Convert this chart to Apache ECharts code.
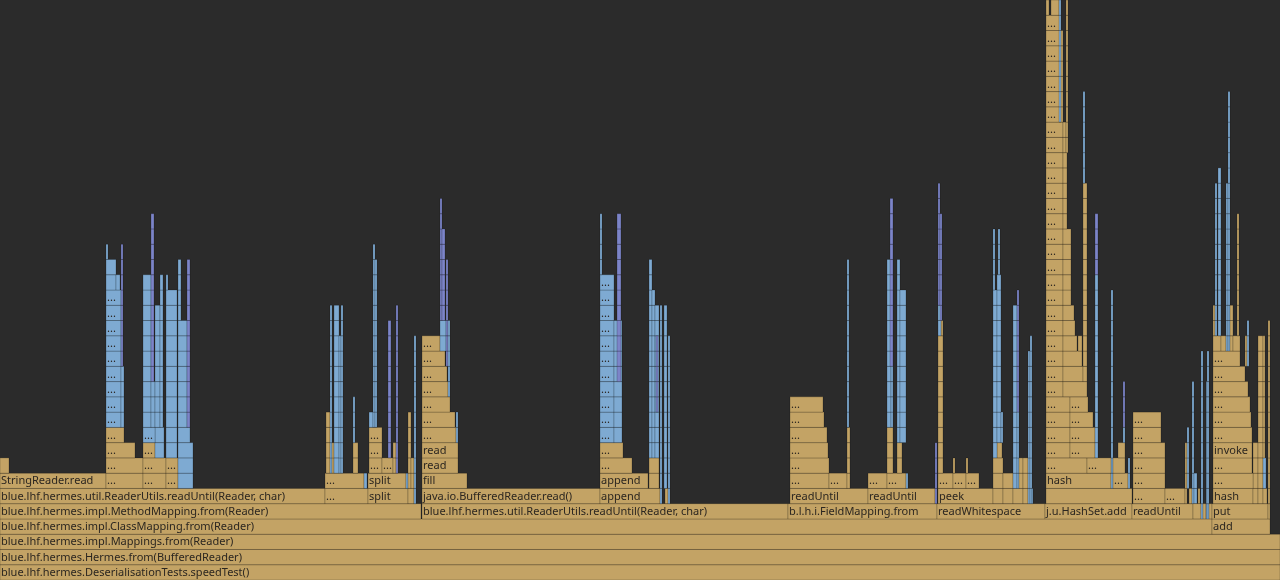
<!DOCTYPE html>
<html><head><meta charset="utf-8">
<script src="https://cdn.jsdelivr.net/npm/echarts@6/dist/echarts.min.js"></script>
<style>html,body{margin:0;padding:0;background:#2b2b2b;}#c{width:1280px;height:580px;}</style>
</head><body><div id="c"></div>
<script>
// Each frame run: [startSample, endSample, depthFrom, depthTo, kind (t=java, b=blue, p=purple), label]
// label omitted => "..." (elided name); '' => no label
const rootFrames = [
  [0,1280,0,0,'t','blue.lhf.hermes.DeserialisationTests.speedTest()'],
  [0,1280,1,1,'t','blue.lhf.hermes.Hermes.from(BufferedReader)'],
  [0,1280,2,2,'t','blue.lhf.hermes.impl.Mappings.from(Reader)'],
  [0,1212,3,3,'t','blue.lhf.hermes.impl.ClassMapping.from(Reader)'],
  [1212,1270,3,3,'t','add'],
  [0,421,4,4,'t','blue.lhf.hermes.impl.MethodMapping.from(Reader)'],
  [422,788,4,4,'t','blue.lhf.hermes.util.ReaderUtils.readUntil(Reader, char)'],
  [788,937,4,4,'t','b.l.h.i.FieldMapping.from'],
  [937,1045,4,4,'t','readWhitespace'],
  [1045,1132,4,4,'t','j.u.HashSet.add'],
  [1132,1193,4,4,'t','readUntil']
];
const methodFrames = [
  [0,325,5,5,'t','blue.lhf.hermes.util.ReaderUtils.readUntil(Reader, char)'],
  [0,106,6,6,'t','StringReader.read'],
  [0,9,7,7,'t'],
  [106,143,6,7,'t'],[106,135,8,8,'t'],[106,124,9,9,'t'],
  [143,166,6,7,'t'],[143,155,8,8,'t'],
  [166,178,6,7,'t'],
  [155,164,8,9,'b'],[143,155,9,9,'b'],[166,177,8,9,'b',''],
  [178,193,6,8,'b',''],[178,190,9,9,'b',''],
  [106,121,10,18,'b'],[106,116,19,20,'b',''],[116,120,19,19,'b',''],[106,108,21,21,'b'],
  [121,124,10,13,'b'],[121,123,14,21,'p'],
  [143,151,10,19,'b'],[151,155,10,12,'b'],[151,154,13,23,'p'],
  [155,160,10,17,'b'],[160,163,10,19,'b'],
  [166,177,10,18,'b',''],[166,168,19,19,'b'],
  [178,187,10,16,'b'],[178,181,17,20,'b'],[187,190,10,20,'p']
];
const splitFrames = [
  [325,368,5,5,'t'],[368,408,5,5,'t','split'],[408,414,5,5,'t'],
  [325,364,6,6,'t'],[364,367,6,6,'b'],
  [326,330,7,10,'t'],[330,332,7,17,'b'],[332,334,7,8,'t'],
  [334,339,7,17,'b'],[339,341,7,15,'b'],[341,343,7,17,'b'],
  [353,358,7,8,'t'],[353,355,9,11,'b'],
  [368,406,6,6,'t','split'],[406,408,6,6,'b'],
  [369,382,7,9,'t'],[369,373,10,10,'b'],[373,375,10,21,'b'],[375,377,10,20,'b'],
  [382,393,7,7,'t'],[388,391,8,16,'p'],[393,396,7,8,'t'],[396,398,7,17,'p'],
  [408,411,6,10,'t'],[411,414,6,7,'t'],[414,416,5,15,'b']
];
const bufferedFrames = [
  [422,600,5,5,'t','java.io.BufferedReader.read()'],
  [422,467,6,6,'t','fill'],
  [422,458,7,7,'t','read'],[422,458,8,8,'t','read'],
  [422,456,9,9,'t'],[456,458,9,10,'b'],
  [422,455,10,10,'t'],[422,450,11,11,'t'],[422,448,12,12,'t'],
  [422,447,13,13,'t'],[422,445,14,14,'t'],[422,440,15,15,'t'],
  [440,446,15,16,'b'],[440,442,17,24,'p'],[442,445,17,22,'p'],
  [446,448,14,20,'p'],[448,450,12,16,'b']
];
const appendFrames = [
  [600,660,5,5,'t','append'],[665,668,5,5,'t'],
  [600,648,6,6,'t','append'],[649,659,6,7,'t'],
  [600,632,7,7,'t'],[600,623,8,8,'t'],
  [600,614,9,19,'b'],[614,622,9,16,'b'],[617,621,13,23,'p'],[600,602,20,23,'b'],
  [649,652,8,20,'b'],[652,655,8,18,'b'],[655,659,8,17,'b'],[656,658,11,15,'p'],
  [660,662,5,17,'b'],[664,667,6,17,'b'],[668,670,5,15,'b']
];
const fieldFrames = [
  [790,868,5,5,'t','readUntil'],[868,935,5,5,'t','readUntil'],[935,937,5,8,'p'],
  [790,829,6,7,'t'],[790,828,8,8,'t'],[790,827,9,9,'t'],[790,824,10,10,'t'],[790,823,11,11,'t'],
  [829,847,6,6,'t'],[847,850,6,9,'t'],[847,849,10,20,'b'],
  [868,887,6,6,'t'],[887,906,6,6,'t'],[906,908,6,6,'b'],
  [887,893,7,9,'t'],[887,891,10,20,'b'],[891,893,10,13,'b'],[890,893,14,24,'p'],
  [897,902,7,8,'t'],[897,900,9,20,'b'],[900,906,9,18,'b']
];
const whitespaceFrames = [
  [938,993,5,5,'t','peek'],[993,1003,5,5,'t'],[1003,1013,5,5,'t'],[1013,1023,5,5,'t'],[1023,1028,5,5,'t'],
  [938,953,6,6,'t'],[953,966,6,6,'t'],[966,979,6,6,'t'],
  [938,943,7,15,'t'],[941,943,16,16,'t'],[938,941,16,17,'b'],[938,940,18,25,'p'],[940,942,17,23,'p'],
  [953,955,7,7,'t'],[966,968,7,7,'t'],
  [993,1003,6,7,'t'],[1003,1013,6,6,'t'],
  [997,1002,8,8,'t'],[993,997,8,18,'b'],[993,995,19,22,'b'],
  [997,1001,9,19,'b'],[998,1000,20,22,'b'],[1001,1003,9,10,'b'],
  [1013,1017,6,17,'b'],[1017,1019,6,10,'b'],[1017,1019,11,18,'p'],
  [1019,1023,6,7,'t'],[1023,1028,6,7,'t'],
  [1028,1030,5,14,'b'],[1030,1032,5,15,'b'],[1032,1033,5,5,'b']
];
const hashFrames = [
  [1046,1132,5,5,'t','j.u.HashMap.put'],
  [1046,1111,6,6,'t','hash'],[1111,1113,6,18,'b'],[1113,1128,6,6,'t'],[1128,1130,6,7,'b'],
  [1046,1087,7,7,'t'],[1087,1111,7,7,'t'],[1113,1125,7,7,'t',''],
  [1046,1070,8,11,'t'],[1070,1095,8,9,'t'],[1070,1093,10,10,'t'],[1070,1088,11,11,'t'],
  [1046,1063,12,35,'t'],
  [1063,1087,12,12,'t',''],[1063,1083,13,13,'t',''],[1063,1082,14,14,'t',''],
  [1063,1077,15,15,'t',''],[1078,1082,15,15,'t',''],[1063,1075,16,16,'t',''],[1063,1074,17,17,'t',''],
  [1063,1071,18,22,'t',''],[1063,1067,23,27,'t',''],[1063,1066,28,29,'t',''],
  [1046,1060,36,36,'t'],[1046,1049,37,37,'t'],[1051,1059,37,37,'t'],
  [1059,1061,30,37,'b'],[1066,1068,28,37,'t'],
  [1083,1087,13,25,'t'],[1083,1085,26,31,'b'],
  [1095,1098,8,19,'b'],[1095,1098,20,23,'p'],
  [1118,1125,8,8,'t'],[1123,1125,9,9,'b'],[1123,1125,10,12,'p']
];
const classReadFrames = [
  [1133,1165,5,5,'t'],[1165,1185,5,5,'t'],[1185,1187,5,8,'t'],[1187,1189,6,9,'b'],
  [1189,1192,5,5,'t'],[1192,1194,5,12,'b'],[1194,1197,5,6,'b'],[1198,1200,5,5,'t'],
  [1133,1165,6,8,'t'],[1133,1161,9,10,'t'],
  [1193,1201,4,4,'t'],[1201,1203,4,14,'b'],[1203,1206,4,4,'t'],[1206,1207,4,12,'b'],
  [1207,1209,4,14,'b'],[1209,1212,4,4,'t']
];
const addFrames = [
  [1212,1268,4,4,'t','put'],[1268,1270,4,16,'t'],
  [1213,1253,5,5,'t','hash'],[1253,1258,5,8,'t'],[1258,1263,5,15,'t'],[1263,1267,5,5,'t'],
  [1263,1266,6,7,'b'],[1263,1265,8,15,'t'],
  [1213,1253,6,6,'t'],[1213,1252,7,7,'t'],[1213,1252,8,8,'t','invoke'],[1213,1252,9,9,'t'],
  [1213,1251,10,10,'t'],[1213,1250,11,11,'t'],[1213,1248,12,12,'t'],[1213,1245,13,13,'t'],
  [1213,1240,14,14,'t'],
  [1213,1221,15,15,'t',''],[1213,1215,16,17,'t'],
  [1215,1217,16,25,'b'],[1218,1221,16,26,'b'],
  [1221,1226,15,15,'t',''],[1226,1228,15,25,'b'],[1228,1230,15,31,'b'],
  [1230,1233,15,17,'t'],[1233,1240,15,15,'t',''],[1237,1239,16,23,'t'],
  [1245,1247,14,15,'t'],[1247,1249,14,16,'b']
];

const frameGroups = [rootFrames, methodFrames, splitFrames, bufferedFrames, appendFrames,
  fieldFrames, whitespaceFrames, hashFrames, classReadFrames, addFrames];
const kindColors = { t: '#c3a365', b: '#7eaad2', p: '#7c84c8' };
const totalSamples = 1280;
const maxDepth = 38;

// expand runs into individual frames
const cells = [];
frameGroups.forEach(g => g.forEach(f => {
  const label = f.length > 5 ? f[5] : '...';
  for (let d = f[2]; d <= f[3]; d++) cells.push({ s: f[0], e: f[1], d: d, k: f[4], label: label });
}));

const FONT = '11px "Noto Sans"';
const ctx = document.createElement('canvas').getContext('2d');
ctx.font = FONT;
const widthCache = {};
function textW(t) { if (!(t in widthCache)) widthCache[t] = ctx.measureText(t).width; return widthCache[t]; }

const chart = echarts.init(document.getElementById('c'), null, { renderer: 'canvas' });
chart.setOption({
  backgroundColor: '#2b2b2b',
  animation: false,
  grid: { left: 0, right: 0, top: 0, bottom: 0 },
  xAxis: { type: 'value', min: 0, max: totalSamples, show: false },
  yAxis: { type: 'value', min: 0, max: maxDepth, show: false },
  series: [{
    type: 'custom',
    data: cells.map(c => [c.s, c.e, c.d]),
    encode: { x: [0, 1], y: 2 },
    renderItem: function (params, api) {
      const c = cells[params.dataIndex];
      const p0 = api.coord([c.s, c.d]);
      const p1 = api.coord([c.e, c.d + 1]);
      const x = p0[0], y = p1[1], w = p1[0] - p0[0], h = p0[1] - p1[1];
      const children = [{
        type: 'rect',
        shape: { x: x, y: y, width: w, height: h },
        style: { fill: kindColors[c.k], stroke: 'rgba(0,0,0,0.2)', lineWidth: 1 }
      }];
      if (c.label && textW(c.label) + 2 <= w) {
        children.push({
          type: 'text',
          style: { text: c.label, x: x + 1, y: y + h / 2 + 0.5, fill: '#2b2620', font: FONT, align: 'left', verticalAlign: 'middle' }
        });
      }
      return { type: 'group', children: children };
    }
  }]
});
</script>
</body></html>
